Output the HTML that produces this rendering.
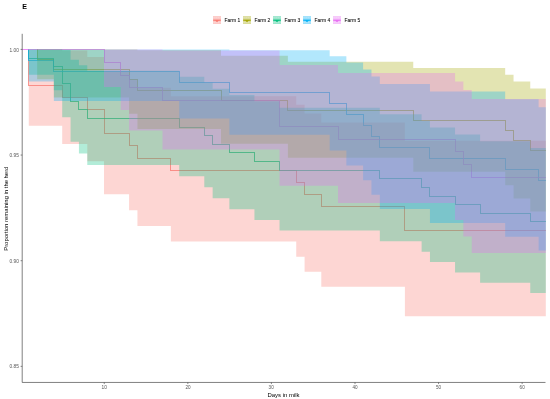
<!DOCTYPE html>
<html><head><meta charset="utf-8"><title>E</title>
<style>html,body{margin:0;padding:0;background:#fff}body{width:550px;height:399px;overflow:hidden}</style></head>
<body>
<svg width="550" height="399" viewBox="0 0 550 399" style="display:block" font-family="'Liberation Sans', Arial, sans-serif">
<rect width="550" height="399" fill="#fff"/>
<defs><clipPath id="pc"><rect x="22.2" y="33.8" width="523.6" height="348.65"/></clipPath></defs>
<g clip-path="url(#pc)">
<path d="M28.78 49.4 L28.78 85.62 L62.21 85.62 L62.21 97.7 L87.28 97.7 L87.28 109.77 L104 109.77 L104 133.92 L129.07 133.92 L129.07 145.99 L137.43 145.99 L137.43 158.07 L170.86 158.07 L170.86 170.14 L296.23 170.14 L296.23 182.22 L304.59 182.22 L304.59 194.29 L321.31 194.29 L321.31 206.37 L404.89 206.37 L404.89 230.51 L546.97 230.51" fill="none" stroke="#F8766D" stroke-width="1" stroke-linejoin="miter" stroke-opacity="0.75" shape-rendering="crispEdges"/>
<path d="M37.14 49.4 L37.14 59.56 L53.85 59.56 L53.85 69.72 L129.07 69.72 L129.07 79.88 L137.43 79.88 L137.43 90.03 L221.01 90.03 L221.01 100.19 L287.88 100.19 L287.88 110.35 L413.25 110.35 L413.25 120.51 L505.18 120.51 L505.18 130.67 L513.54 130.67 L513.54 140.83 L530.26 140.83 L530.26 150.99 L546.97 150.99" fill="none" stroke="#A3A500" stroke-width="1" stroke-linejoin="miter" stroke-opacity="0.75" shape-rendering="crispEdges"/>
<path d="M28.78 49.4 L28.78 58.02 L53.85 58.02 L53.85 66.65 L62.21 66.65 L62.21 83.9 L70.57 83.9 L70.57 101.15 L78.93 101.15 L78.93 109.77 L87.28 109.77 L87.28 118.4 L179.22 118.4 L179.22 127.02 L204.3 127.02 L204.3 135.64 L212.65 135.64 L212.65 144.27 L229.37 144.27 L229.37 152.89 L254.44 152.89 L254.44 161.52 L279.52 161.52 L279.52 170.14 L379.81 170.14 L379.81 178.77 L421.6 178.77 L421.6 187.39 L429.96 187.39 L429.96 196.02 L455.04 196.02 L455.04 204.64 L480.11 204.64 L480.11 213.27 L530.26 213.27 L530.26 221.89 L546.97 221.89" fill="none" stroke="#00BF7D" stroke-width="1" stroke-linejoin="miter" stroke-opacity="0.75" shape-rendering="crispEdges"/>
<path d="M28.78 49.4 L28.78 60.29 L53.85 60.29 L53.85 71.18 L179.22 71.18 L179.22 82.08 L229.37 82.08 L229.37 92.97 L329.67 92.97 L329.67 103.86 L346.38 103.86 L346.38 114.75 L363.1 114.75 L363.1 125.64 L371.46 125.64 L371.46 136.53 L379.81 136.53 L379.81 147.43 L429.96 147.43 L429.96 158.32 L505.18 158.32 L505.18 169.21 L538.62 169.21 L538.62 180.1 L546.97 180.1" fill="none" stroke="#00B0F6" stroke-width="1" stroke-linejoin="miter" stroke-opacity="0.75" shape-rendering="crispEdges"/>
<path d="M20.42 49.4 L104 49.4 L104 62.21 L120.72 62.21 L120.72 75.01 L129.07 75.01 L129.07 87.82 L162.51 87.82 L162.51 100.62 L279.52 100.62 L279.52 126.24 L338.02 126.24 L338.02 139.04 L455.04 139.04 L455.04 151.85 L463.39 151.85 L463.39 164.65 L471.75 164.65 L471.75 177.46 L546.97 177.46" fill="none" stroke="#E76BF3" stroke-width="1" stroke-linejoin="miter" stroke-opacity="0.75" shape-rendering="crispEdges"/>
<path d="M20.42 49.4 L28.78 49.4 L28.78 49.4 L62.21 49.4 L62.21 50.38 L87.28 50.38 L87.28 56.95 L104 56.95 L104 71.63 L129.07 71.63 L129.07 79.53 L137.43 79.53 L137.43 87.71 L170.86 87.71 L170.86 96.13 L296.23 96.13 L296.23 104.76 L304.59 104.76 L304.59 113.56 L321.31 113.56 L321.31 122.52 L404.89 122.52 L404.89 140.86 L546.97 140.86 L546.97 316.2 L404.89 316.2 L404.89 286.76 L321.31 286.76 L321.31 271.84 L304.59 271.84 L304.59 256.76 L296.23 256.76 L296.23 241.5 L170.86 241.5 L170.86 226.04 L137.43 226.04 L137.43 210.33 L129.07 210.33 L129.07 194.35 L104 194.35 L104 161.27 L87.28 161.27 L87.28 143.96 L62.21 143.96 L62.21 125.87 L28.78 125.87 L28.78 49.4 L20.42 49.4Z" fill="#F8766D" fill-opacity="0.3"/>
<path d="M20.42 49.4 L37.14 49.4 L37.14 49.4 L53.85 49.4 L53.85 49.4 L129.07 49.4 L129.07 49.4 L137.43 49.4 L137.43 50.22 L221.01 50.22 L221.01 55.74 L287.88 55.74 L287.88 61.72 L413.25 61.72 L413.25 68.06 L505.18 68.06 L505.18 74.69 L513.54 74.69 L513.54 81.55 L530.26 81.55 L530.26 88.61 L546.97 88.61 L546.97 211.49 L530.26 211.49 L530.26 198.42 L513.54 198.42 L513.54 185.15 L505.18 185.15 L505.18 171.64 L413.25 171.64 L413.25 157.86 L287.88 157.86 L287.88 143.71 L221.01 143.71 L221.01 129.1 L137.43 129.1 L137.43 113.83 L129.07 113.83 L129.07 97.55 L53.85 97.55 L53.85 79.33 L37.14 79.33 L37.14 49.4 L20.42 49.4Z" fill="#A3A500" fill-opacity="0.3"/>
<path d="M20.42 49.4 L28.78 49.4 L28.78 49.4 L53.85 49.4 L53.85 49.4 L62.21 49.4 L62.21 50.1 L70.57 50.1 L70.57 59.84 L78.93 59.84 L78.93 65.21 L87.28 65.21 L87.28 70.83 L179.22 70.83 L179.22 76.64 L204.3 76.64 L204.3 82.61 L212.65 82.61 L212.65 88.73 L229.37 88.73 L229.37 94.97 L254.44 94.97 L254.44 101.32 L279.52 101.32 L279.52 107.77 L379.81 107.77 L379.81 114.31 L421.6 114.31 L421.6 120.93 L429.96 120.93 L429.96 127.62 L455.04 127.62 L455.04 134.38 L480.11 134.38 L480.11 141.2 L530.26 141.2 L530.26 148.07 L546.97 148.07 L546.97 293 L530.26 293 L530.26 282.76 L480.11 282.76 L480.11 272.47 L455.04 272.47 L455.04 262.12 L429.96 262.12 L429.96 251.69 L421.6 251.69 L421.6 241.2 L379.81 241.2 L379.81 230.62 L279.52 230.62 L279.52 219.96 L254.44 219.96 L254.44 209.2 L229.37 209.2 L229.37 198.32 L212.65 198.32 L212.65 187.33 L204.3 187.33 L204.3 176.19 L179.22 176.19 L179.22 164.88 L87.28 164.88 L87.28 153.38 L78.93 153.38 L78.93 141.64 L70.57 141.64 L70.57 117.16 L62.21 117.16 L62.21 90.32 L53.85 90.32 L53.85 74.83 L28.78 74.83 L28.78 49.4 L20.42 49.4Z" fill="#00BF7D" fill-opacity="0.3"/>
<path d="M20.42 49.4 L28.78 49.4 L28.78 49.4 L53.85 49.4 L53.85 49.4 L179.22 49.4 L179.22 49.4 L229.37 49.4 L229.37 50.28 L329.67 50.28 L329.67 56.2 L346.38 56.2 L346.38 62.62 L363.1 62.62 L363.1 69.43 L371.46 69.43 L371.46 76.54 L379.81 76.54 L379.81 83.9 L429.96 83.9 L429.96 91.48 L505.18 91.48 L505.18 99.24 L538.62 99.24 L538.62 107.16 L546.97 107.16 L546.97 250.45 L538.62 250.45 L538.62 236.8 L505.18 236.8 L505.18 223 L429.96 223 L429.96 209.01 L379.81 209.01 L379.81 194.8 L371.46 194.8 L371.46 180.35 L363.1 180.35 L363.1 165.59 L346.38 165.59 L346.38 150.44 L329.67 150.44 L329.67 134.79 L229.37 134.79 L229.37 118.44 L179.22 118.44 L179.22 101 L53.85 101 L53.85 81.48 L28.78 81.48 L28.78 49.4 L20.42 49.4Z" fill="#00B0F6" fill-opacity="0.3"/>
<path d="M20.42 49.4 L104 49.4 L104 49.4 L120.72 49.4 L120.72 49.4 L129.07 49.4 L129.07 49.4 L162.51 49.4 L162.51 50.44 L279.52 50.44 L279.52 64.98 L338.02 64.98 L338.02 73 L455.04 73 L455.04 81.39 L463.39 81.39 L463.39 90.08 L471.75 90.08 L471.75 99.02 L546.97 99.02 L546.97 252.92 L471.75 252.92 L471.75 236.55 L463.39 236.55 L463.39 219.92 L455.04 219.92 L455.04 202.99 L338.02 202.99 L338.02 185.7 L279.52 185.7 L279.52 149.62 L162.51 149.62 L162.51 130.45 L129.07 130.45 L129.07 110 L120.72 110 L120.72 87.08 L104 87.08 L104 49.4 L20.42 49.4Z" fill="#E76BF3" fill-opacity="0.3"/>
</g>
<path d="M22.2 33.8 V382.45 H545.5" fill="none" stroke="#3d3d3d" stroke-width="0.65"/>
<path d="M20.6 49.4 H22.2" stroke="#3d3d3d" stroke-width="0.6"/>
<text x="9.5" y="52" font-size="4.8" fill="#555">1.00</text>
<path d="M20.6 155.05 H22.2" stroke="#3d3d3d" stroke-width="0.6"/>
<text x="9.5" y="157" font-size="4.8" fill="#555">0.95</text>
<path d="M20.6 260.7 H22.2" stroke="#3d3d3d" stroke-width="0.6"/>
<text x="9.5" y="263" font-size="4.8" fill="#555">0.90</text>
<path d="M20.6 366.35 H22.2" stroke="#3d3d3d" stroke-width="0.6"/>
<text x="9.5" y="368" font-size="4.8" fill="#555">0.85</text>
<path d="M104.25 382.45 V384.05" stroke="#3d3d3d" stroke-width="0.6"/>
<text x="101.581" y="389" font-size="4.8" fill="#555">10</text>
<path d="M187.83 382.45 V384.05" stroke="#3d3d3d" stroke-width="0.6"/>
<text x="185.397" y="389" font-size="4.6" fill="#555">20</text>
<path d="M271.41 382.45 V384.05" stroke="#3d3d3d" stroke-width="0.6"/>
<text x="268.602" y="389" font-size="4.6" fill="#555">30</text>
<path d="M354.99 382.45 V384.05" stroke="#3d3d3d" stroke-width="0.6"/>
<text x="352.432" y="389" font-size="4.6" fill="#555">40</text>
<path d="M438.57 382.45 V384.05" stroke="#3d3d3d" stroke-width="0.6"/>
<text x="435.887" y="389" font-size="4.6" fill="#555">50</text>
<path d="M522.15 382.45 V384.05" stroke="#3d3d3d" stroke-width="0.6"/>
<text x="519.592" y="389" font-size="4.6" fill="#555">60</text>
<text x="283.5" y="396.8" font-size="5.95" fill="#000" text-anchor="middle">Days in milk</text>
<text transform="translate(7.6 208.7) rotate(-90)" font-size="5.9" fill="#000" text-anchor="middle">Proportion remaining in the herd</text>
<text x="22.2" y="9.1" font-size="7.1" font-weight="bold" fill="#000">E</text>
<rect x="213" y="16.1" width="8" height="7.9" fill="#F8766D" fill-opacity="0.4"/>
<path d="M213.4 17.7 H220.6 M213.4 22.6 H220.6" stroke="#fff" stroke-opacity="0.55" stroke-width="0.6" stroke-dasharray="1.3 0.8"/>
<path d="M213.2 20.2 H220.8" stroke="#F8766D" stroke-width="1.15"/>
<path d="M215 20.2 h4 l-2 2.1z" fill="#F8766D"/>
<text x="224.5" y="21.8" font-size="4.95" fill="#000" stroke="#000" stroke-width="0.06">Farm 1</text>
<rect x="243" y="16.1" width="8" height="7.9" fill="#A3A500" fill-opacity="0.4"/>
<path d="M243.4 17.7 H250.6 M243.4 22.6 H250.6" stroke="#fff" stroke-opacity="0.55" stroke-width="0.6" stroke-dasharray="1.3 0.8"/>
<path d="M243.2 20.2 H250.8" stroke="#A3A500" stroke-width="1.15"/>
<path d="M245 20.2 h4 l-2 2.1z" fill="#A3A500"/>
<text x="254.5" y="21.8" font-size="4.95" fill="#000" stroke="#000" stroke-width="0.06">Farm 2</text>
<rect x="273" y="16.1" width="8" height="7.9" fill="#00BF7D" fill-opacity="0.4"/>
<path d="M273.4 17.7 H280.6 M273.4 22.6 H280.6" stroke="#fff" stroke-opacity="0.55" stroke-width="0.6" stroke-dasharray="1.3 0.8"/>
<path d="M273.2 20.2 H280.8" stroke="#00BF7D" stroke-width="1.15"/>
<path d="M275 20.2 h4 l-2 2.1z" fill="#00BF7D"/>
<text x="284.5" y="21.8" font-size="4.95" fill="#000" stroke="#000" stroke-width="0.06">Farm 3</text>
<rect x="303" y="16.1" width="8" height="7.9" fill="#00B0F6" fill-opacity="0.4"/>
<path d="M303.4 17.7 H310.6 M303.4 22.6 H310.6" stroke="#fff" stroke-opacity="0.55" stroke-width="0.6" stroke-dasharray="1.3 0.8"/>
<path d="M303.2 20.2 H310.8" stroke="#00B0F6" stroke-width="1.15"/>
<path d="M305 20.2 h4 l-2 2.1z" fill="#00B0F6"/>
<text x="314.5" y="21.8" font-size="4.95" fill="#000" stroke="#000" stroke-width="0.06">Farm 4</text>
<rect x="333" y="16.1" width="8" height="7.9" fill="#E76BF3" fill-opacity="0.4"/>
<path d="M333.4 17.7 H340.6 M333.4 22.6 H340.6" stroke="#fff" stroke-opacity="0.55" stroke-width="0.6" stroke-dasharray="1.3 0.8"/>
<path d="M333.2 20.2 H340.8" stroke="#E76BF3" stroke-width="1.15"/>
<path d="M335 20.2 h4 l-2 2.1z" fill="#E76BF3"/>
<text x="344.5" y="21.8" font-size="4.95" fill="#000" stroke="#000" stroke-width="0.06">Farm 5</text>
</svg>
</body></html>
